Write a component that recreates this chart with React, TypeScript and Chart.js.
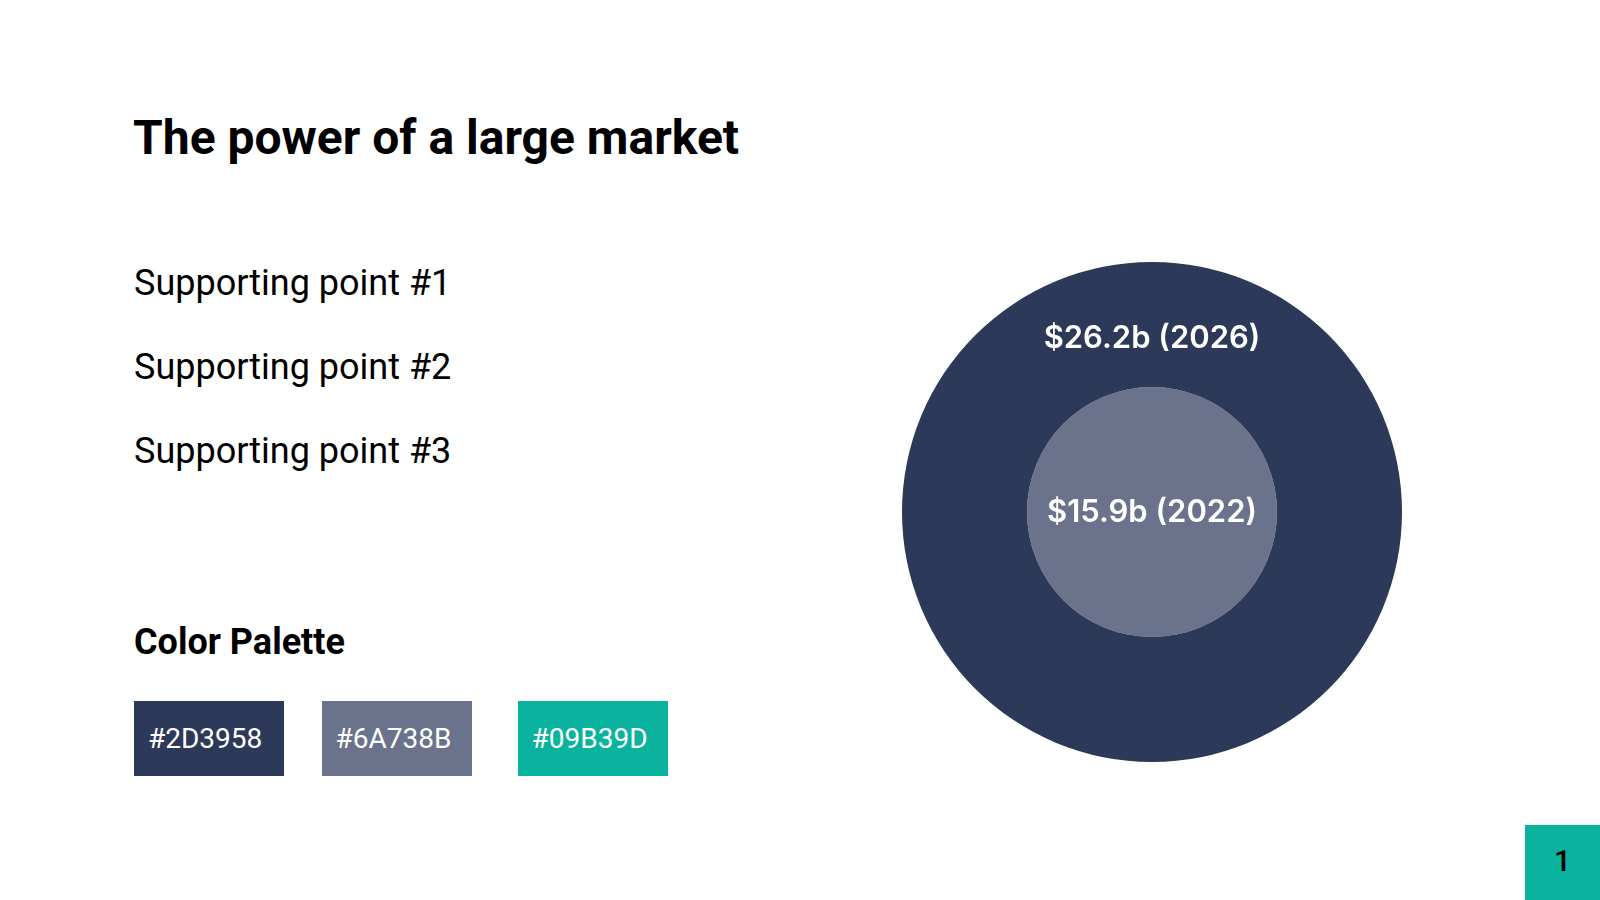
import React, { useEffect, useRef } from "react";
import { Chart, registerables } from "chart.js";

Chart.register(...registerables);

// ---- data ----
const ringYears = ["2026", "2022"];
const ringValues = [26.2, 15.9];
const ringLabels = ["$26.2b (2026)", "$15.9b (2022)"];
const ringColors = ["#2D3958", "#6A738B"];
const supportingPoints = ["Supporting point #1", "Supporting point #2", "Supporting point #3"];
const paletteColors = ["#2D3958", "#6A738B", "#09B39D"];
const titleText = "The power of a large market";
const paletteTitle = "Color Palette";
const pageNumber = "1";

const ringLabelPlugin = {
  id: "ringLabelPlugin",
  afterDatasetsDraw(chart: any) {
    const ctx = chart.ctx;
    const outer = chart.getDatasetMeta(0).data[0];
    const inner = chart.getDatasetMeta(1).data[0];
    if (!outer || !inner) return;
    ctx.save();
    ctx.fillStyle = "#FFFFFF";
    ctx.font = "600 31px Inter";
    ctx.textAlign = "center";
    ctx.textBaseline = "middle";
    ctx.fillText(ringLabels[0], outer.x, outer.y - outer.outerRadius * 0.692);
    ctx.fillText(ringLabels[1], inner.x, inner.y + 1);
    ctx.restore();
  },
};

function RingChart() {
  const ref = useRef<HTMLCanvasElement>(null);
  useEffect(() => {
    if (!ref.current) return;
    const chart = new Chart(ref.current, {
      type: "doughnut",
      data: {
        labels: ["Market size"],
        datasets: ringValues.map((v, i) => ({
          label: ringYears[i],
          data: [v],
          backgroundColor: ringColors[i],
          borderWidth: 0,
          hoverOffset: 0,
          offset: 0,
        })),
      },
      options: {
        animation: false,
        responsive: false,
        cutout: 0,
        events: [],
        layout: { padding: 0 },
        plugins: {
          legend: { display: false },
          tooltip: { enabled: false },
          title: { display: false },
        },
      } as any,
      plugins: [ringLabelPlugin],
    });
    return () => chart.destroy();
  }, []);
  return <canvas ref={ref} width={500} height={500} style={{ display: "block" }} />;
}

const abs = (x: number, y: number): React.CSSProperties => ({
  position: "absolute",
  left: x,
  top: y,
  whiteSpace: "nowrap",
  lineHeight: 1,
  margin: 0,
});

export default function App() {
  return (
    <div
      style={{
        position: "absolute",
        left: 0,
        top: 0,
        width: 1600,
        height: 900,
        background: "#FFFFFF",
        overflow: "hidden",
        fontFamily: "Roboto, 'Noto Sans', sans-serif",
        color: "#000000",
      }}
    >
      <div style={{ ...abs(133, 113.6), fontSize: 48, fontWeight: 700 }}>{titleText}</div>
      {supportingPoints.map((p, i) => (
        <div key={p} style={{ ...abs(134, 264.7 + i * 84), fontSize: 36, fontWeight: 400 }}>
          {p}
        </div>
      ))}
      <div style={{ ...abs(134, 624), fontSize: 36, fontWeight: 700 }}>{paletteTitle}</div>
      {paletteColors.map((c, i) => (
        <div
          key={c}
          style={{
            position: "absolute",
            left: [134, 321.5, 517.5][i],
            top: 701,
            width: 150,
            height: 75,
            background: c,
            color: "#FFFFFF",
            fontSize: 28,
            display: "flex",
            alignItems: "center",
            paddingLeft: 14,
            boxSizing: "border-box",
            lineHeight: 1,
          }}
        >
          {c}
        </div>
      ))}
      <div style={{ position: "absolute", left: 902, top: 262, width: 500, height: 500 }}>
        <RingChart />
      </div>
      <div
        style={{
          position: "absolute",
          left: 1525,
          top: 825,
          width: 75,
          height: 75,
          background: "#09B39D",
          display: "flex",
          alignItems: "center",
          justifyContent: "center",
          fontSize: 30,
          fontWeight: 500,
          lineHeight: 1,
          paddingBottom: 4,
          boxSizing: "border-box",
        }}
      >
        {pageNumber}
      </div>
    </div>
  );
}
